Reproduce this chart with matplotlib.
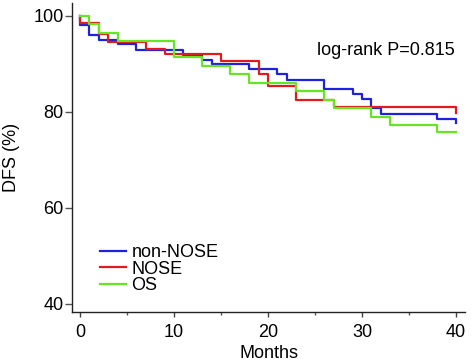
import matplotlib
matplotlib.use("Agg")
import matplotlib.pyplot as plt
from matplotlib.ticker import MultipleLocator

# Kaplan-Meier steps (months, DFS %)
t_nonnose = [0, 0, 1, 2, 4, 6, 11, 13, 14, 18, 21, 22, 26, 29, 30, 31, 32, 38, 40]
s_nonnose = [100, 98.1, 96.0, 95.0, 94.1, 92.9, 91.8, 90.8, 89.9, 88.9, 87.8, 86.7,
             84.7, 83.7, 82.6, 80.7, 79.5, 78.5, 77.6]

t_nose = [0, 0, 2, 3, 7, 9, 15, 19, 20, 23, 27, 40]
s_nose = [100, 98.6, 96.2, 94.6, 93.1, 92.0, 90.5, 87.9, 85.3, 82.5, 81.1, 79.8]

t_os = [0, 1, 2, 4, 10, 13, 16, 18, 23, 26, 27, 31, 33, 38, 40]
s_os = [100, 98.3, 96.5, 94.8, 91.4, 89.5, 87.8, 86.0, 84.3, 82.5, 80.8, 79.0,
        77.3, 75.7, 75.7]

labels = ["non-NOSE", "NOSE", "OS"]
colors = ["#1e22dc", "#e01a1e", "#66e622"]
p_text = "log-rank P=0.815"

plt.rcParams['font.family'] = ['Liberation Sans', 'DejaVu Sans']

fig = plt.figure(figsize=(4.74, 3.61), dpi=100)
ax = fig.add_axes([0.152, 0.136, 0.829, 0.856])

for t, s, lab, c in zip([t_nonnose, t_nose, t_os], [s_nonnose, s_nose, s_os], labels, colors):
    ax.plot(t, s, drawstyle='steps-post', color=c, lw=1.6, label=lab)

ax.set_xlim(-0.85, 40.96)
ax.set_ylim(38.3, 102.7)
ax.set_xticks([0, 10, 20, 30, 40])
ax.xaxis.set_minor_locator(MultipleLocator(5))
ax.set_yticks([40, 60, 80, 100])

for side in ['top', 'right']:
    ax.spines[side].set_visible(False)
for side in ['left', 'bottom']:
    ax.spines[side].set_color('#222222')
    ax.spines[side].set_linewidth(1.0)

ax.tick_params(axis='y', which='major', direction='out', length=5, width=1,
               color='#555555', labelsize=13, pad=1)
ax.tick_params(axis='x', which='major', direction='out', length=3.8, width=1,
               color='#444444', labelsize=13, pad=5)
ax.tick_params(axis='x', which='minor', direction='out', length=2.5, width=1, color='#555555')

ax.set_xlabel("Months", fontsize=13, labelpad=2.8)
ax.set_ylabel("DFS (%)", fontsize=13, labelpad=10)

ax.text(0.975, 0.845, p_text, transform=ax.transAxes, ha='right', va='center', fontsize=13)

leg = ax.legend(loc='lower left', bbox_to_anchor=(0.071, 0.058), frameon=False,
                fontsize=13, handlelength=1.45, handletextpad=0.3, labelspacing=-0.03,
                borderaxespad=0, borderpad=0)

fig.savefig("out.png", dpi=100)
